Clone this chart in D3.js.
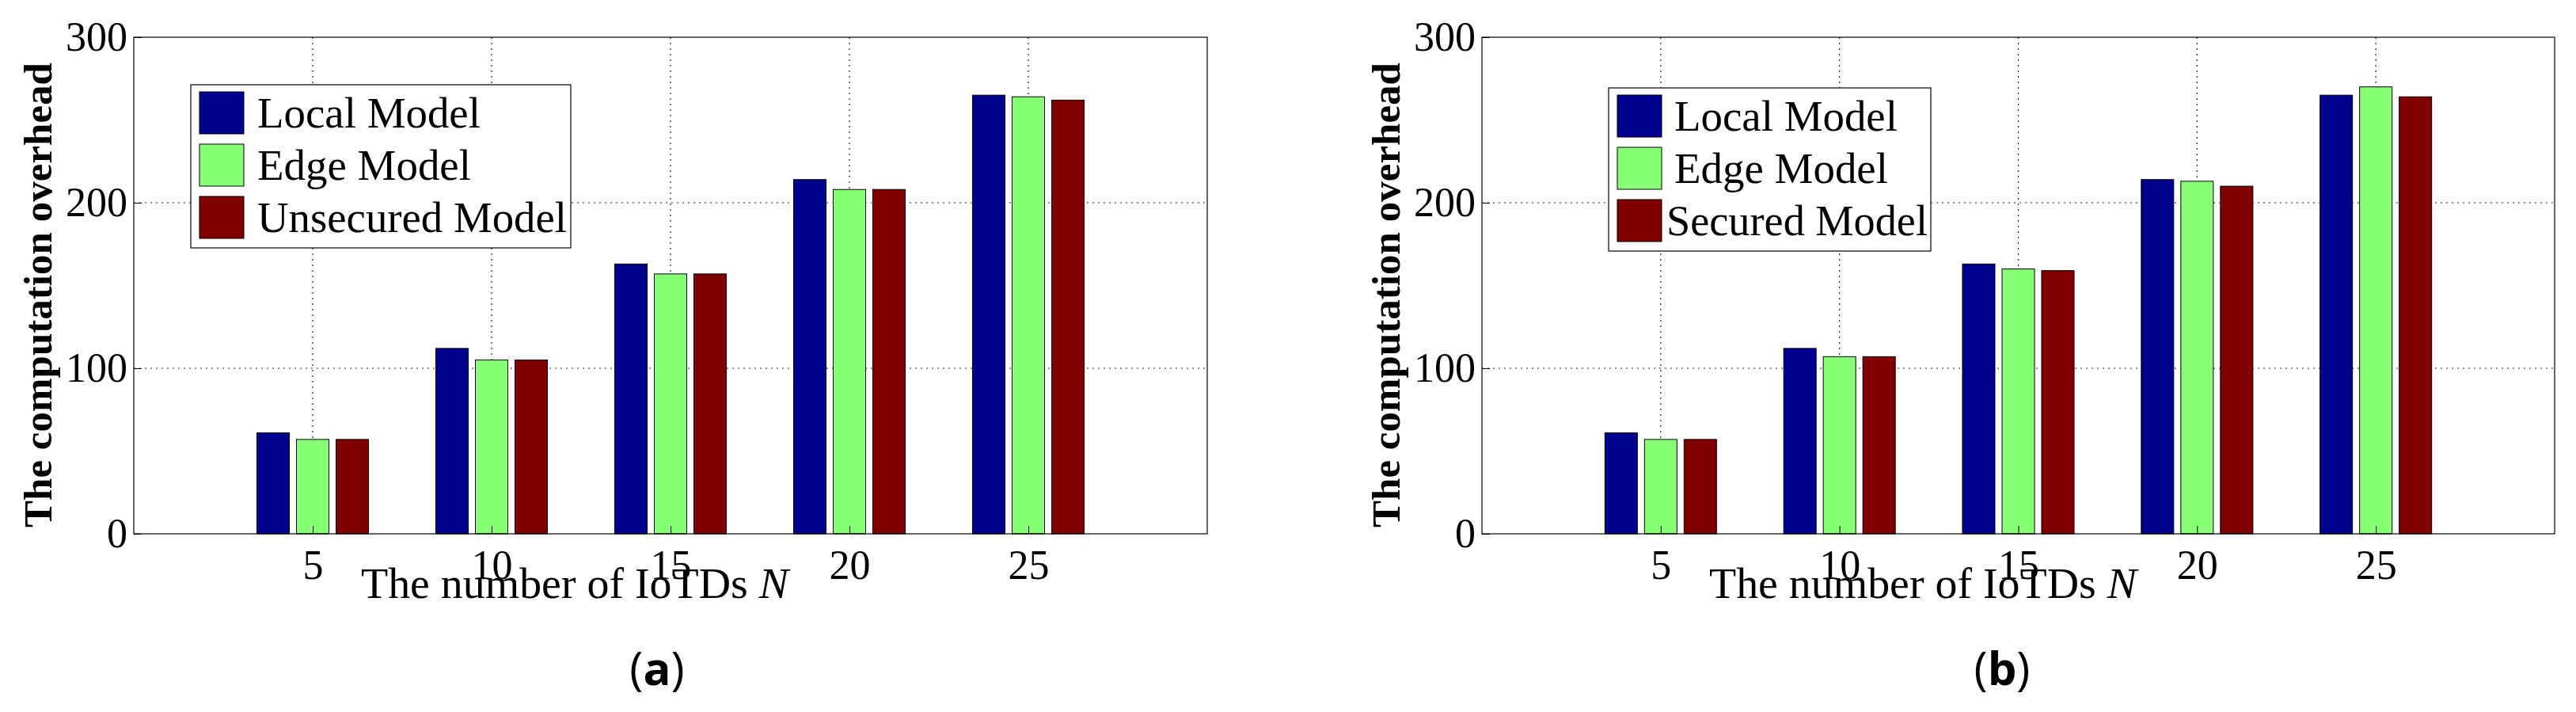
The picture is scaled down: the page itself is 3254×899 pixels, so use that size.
<!DOCTYPE html>
<html><head><meta charset="utf-8">
<script src="https://cdn.jsdelivr.net/npm/d3@7/dist/d3.min.js"></script>
<style>body{margin:0;background:#fff}</style></head>
<body><svg id="c" width="3254" height="899"></svg>
<script>
const categories = [5, 10, 15, 20, 25];
const yTicks = [0, 100, 200, 300];
const localA = [61, 112, 163, 214, 265];
const edgeA = [57, 105, 157, 208, 264];
const unsecuredA = [57, 105, 157, 208, 262];
const localB = [61, 112, 163, 214, 265];
const edgeB = [57, 107, 160, 213, 270];
const securedB = [57, 107, 159, 210, 264];
const colors = ["#00008f", "#88ff77", "#800000"];
const namesA = ["Local Model", "Edge Model", "Unsecured Model"];
const namesB = ["Local Model", "Edge Model", "Secured Model"];
const SERIF = "'Liberation Serif', 'Times New Roman', Times, serif";

const svg = d3.select("#c");
function panel(x0, x1, series, names, leg, label, labelX) {
  const top = 47, bot = 674;
  const x = d3.scaleLinear().domain([0, 30]).range([x0, x1]);
  const y = d3.scaleLinear().domain([0, 300]).range([bot, top]);
  const g = svg.append("g");
  g.selectAll(".gx").data(categories).enter().append("line")
    .attr("x1", d => x(d)).attr("x2", d => x(d)).attr("y1", top).attr("y2", bot)
    .attr("stroke", "#222").attr("stroke-dasharray", "2,5").attr("stroke-width", 1.2);
  g.selectAll(".gy").data(yTicks.slice(1, 3)).enter().append("line")
    .attr("x1", x0).attr("x2", x1).attr("y1", d => y(d)).attr("y2", d => y(d))
    .attr("stroke", "#222").attr("stroke-dasharray", "2,5").attr("stroke-width", 1.2);
  const bw = 41, step = 50;
  series.forEach((s, i) => {
    g.selectAll(".b" + i).data(s).enter().append("rect")
      .attr("x", (d, j) => x(categories[j]) + (i - 1) * step - bw / 2)
      .attr("y", d => y(d)).attr("width", bw).attr("height", d => bot - y(d))
      .attr("fill", colors[i]).attr("stroke", "#000").attr("stroke-width", 1);
  });
  g.append("rect").attr("x", x0).attr("y", top).attr("width", x1 - x0).attr("height", bot - top)
    .attr("fill", "none").attr("stroke", "#000").attr("stroke-width", 1.2);
  const yAx = d3.axisLeft(y).tickValues(yTicks).tickSizeInner(-10).tickSizeOuter(0).tickPadding(8);
  const ya = g.append("g").attr("transform", `translate(${x0},0)`).call(yAx);
  const xAx = d3.axisBottom(x).tickValues(categories).tickSizeInner(-10).tickSizeOuter(0).tickPadding(18);
  const xa = g.append("g").attr("transform", `translate(0,${bot})`).call(xAx);
  [ya, xa].forEach(a => {
    a.select(".domain").remove();
    a.selectAll("text").attr("font-family", SERIF).attr("font-size", 52).attr("fill", "#000");
  });
  xa.selectAll("text").attr("dy", "0.75em");
  g.append("text").attr("transform", `translate(${x0 - 104},${(top + bot) / 2 + 12}) rotate(-90)`)
    .attr("text-anchor", "middle").attr("font-family", SERIF).attr("font-weight", "bold")
    .attr("font-size", 50).attr("textLength", 587).attr("lengthAdjust", "spacingAndGlyphs")
    .text("The computation overhead");
  const xl = g.append("text").attr("x", x0 + 287).attr("y", 755).attr("font-family", SERIF)
    .attr("font-size", 54).attr("textLength", 540).attr("lengthAdjust", "spacingAndGlyphs");
  xl.append("tspan").text("The number of IoTDs  ");
  xl.append("tspan").attr("font-style", "italic").text("N");
  g.append("rect").attr("x", leg.x).attr("y", leg.y).attr("width", leg.w).attr("height", 206)
    .attr("fill", "#fff").attr("stroke", "#000").attr("stroke-width", 1.2);
  names.forEach((n, i) => {
    g.append("rect").attr("x", leg.x + 11).attr("y", leg.y + 9 + i * 66).attr("width", 56).attr("height", 53)
      .attr("fill", colors[i]).attr("stroke", "#000");
    g.append("text").attr("x", leg.tx[i]).attr("y", leg.y + 54 + i * 66)
      .attr("font-family", SERIF).attr("font-size", 54)
      .attr("textLength", leg.tw[i]).attr("lengthAdjust", "spacingAndGlyphs").text(n);
  });
  const t = svg.append("text").attr("x", labelX).attr("y", 865).attr("text-anchor", "middle")
    .attr("font-family", "Open Sans").attr("font-size", 58);
  t.append("tspan").text("(");
  t.append("tspan").attr("font-weight", "bold").text(label);
  t.append("tspan").text(")");
}
panel(169, 1525, [localA, edgeA, unsecuredA], namesA,
  {x: 241, y: 107, w: 480, tx: [325, 325, 325], tw: [282, 270, 391]}, "a", 830);
panel(1872, 3227, [localB, edgeB, securedB], namesB,
  {x: 2032, y: 111, w: 407, tx: [2115, 2115, 2105], tw: [282, 270, 330]}, "b", 2529);
</script></body></html>
